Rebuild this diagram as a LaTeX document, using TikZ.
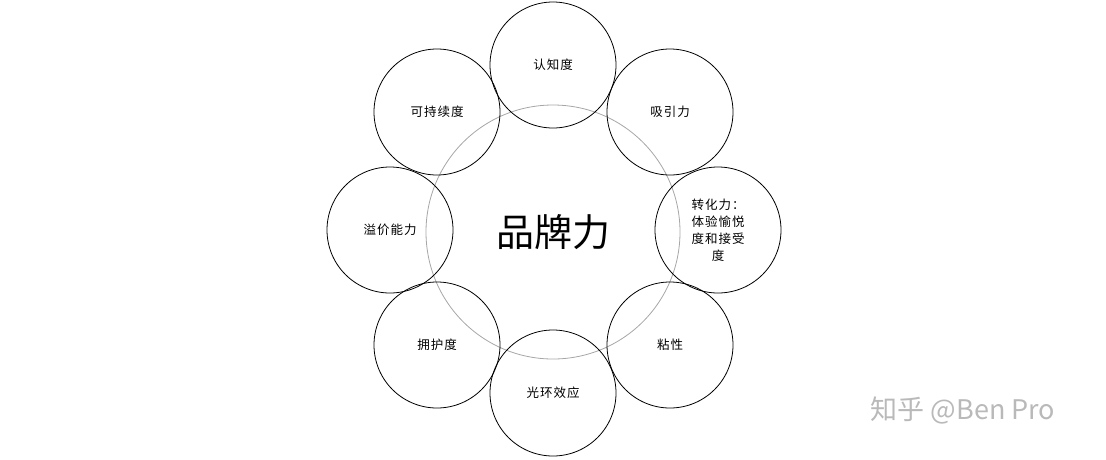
\documentclass[tikz,border=0pt]{standalone}
\usepackage{fontspec}
\newfontfamily\cjk[LetterSpace=8]{Noto Sans CJK SC}
\newfontfamily\cjkw{Noto Sans CJK SC}
\begin{document}
\begin{tikzpicture}[x=1pt,y=-1pt,
  outer/.style={circle,draw=black,line width=0.8pt,minimum size=126pt,inner sep=0pt,font=\cjk\fontsize{12.5}{17}\selectfont,align=center},
  center/.style={circle,draw=gray!70,line width=0.8pt,minimum size=254pt,inner sep=0pt,font=\cjkw\fontsize{38}{42}\selectfont}]
\useasboundingbox (0,0) rectangle (1106,459);
\node[center] (c) at (553,232) {品牌力};
\node[outer] (n1) at (553,65) {认知度};
\node[outer] (n2) at (670,112) {吸引力};
\node[outer] (n3) at (718,230) {转化力：\\体验愉悦\\度和接受\\度};
\node[outer] (n4) at (670,345) {粘性};
\node[outer] (n5) at (553,393) {光环效应};
\node[outer] (n6) at (437,345) {拥护度};
\node[outer] (n7) at (390,230) {溢价能力};
\node[outer] (n8) at (437,112) {可持续度};
\node[text=gray!55,font=\cjkw\fontsize{27}{30}\selectfont] (w) at (963,410) {知乎 @Ben Pro};
\end{tikzpicture}
\end{document}
